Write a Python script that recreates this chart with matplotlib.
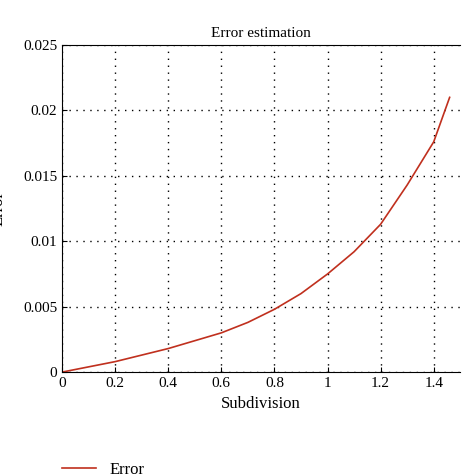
import matplotlib.pyplot as plt
from matplotlib.lines import Line2D

plt.rcParams['font.family'] = ['Liberation Serif', 'DejaVu Serif']

subdivision = [0.0, 0.1, 0.2, 0.3, 0.4, 0.5, 0.6, 0.7, 0.8, 0.9, 1.0, 1.1, 1.2, 1.3, 1.4, 1.46]
error = [0.0, 0.0004, 0.0008, 0.0013, 0.0018, 0.0024, 0.0030, 0.0038, 0.0048, 0.0060, 0.0075, 0.0092, 0.0113, 0.0143, 0.0176, 0.0210]

fig = plt.figure(figsize=(4.74, 4.74), dpi=100)
ax = fig.add_axes([0.131, 0.215, 0.84, 0.69])
ax.plot(subdivision, error, color='#c0301e', lw=1.2)
ax.set_xlim(0, 1.5)
ax.set_ylim(0, 0.025)
ax.set_xticks([0, 0.2, 0.4, 0.6, 0.8, 1, 1.2, 1.4])
ax.set_xticklabels(['0', '0.2', '0.4', '0.6', '0.8', '1', '1.2', '1.4'])
ax.set_yticks([0, 0.005, 0.01, 0.015, 0.02, 0.025])
ax.set_yticklabels(['0', '0.005', '0.01', '0.015', '0.02', '0.025'])
ax.grid(True, color='black', linestyle=(0, (1, 4)), lw=1.0)
ax.tick_params(direction='in', labelsize=11)
ax.spines['right'].set_visible(False)
ax.set_title('Error estimation', fontsize=11)
ax.set_xlabel('Subdivision', fontsize=12)
ax.set_ylabel('Error', fontsize=12, labelpad=12)
fig.legend([Line2D([0], [0], color='#c0301e', lw=1.2)], ['Error'],
           loc='lower left', bbox_to_anchor=(0.1, -0.04), frameon=False, fontsize=12)
fig.savefig('out.png', dpi=100)
